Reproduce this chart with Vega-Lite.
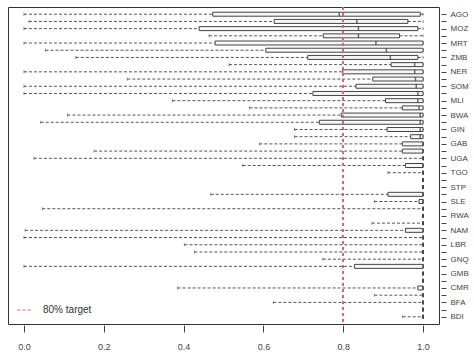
{
  "$schema": "https://vega.github.io/schema/vega-lite/v6.json",
  "width": 431,
  "height": 317,
  "autosize": "none",
  "padding": {"left": 8, "top": 7, "right": 35, "bottom": 28},
  "background": "white",
  "config": {
    "view": {"stroke": "#333333", "strokeWidth": 1},
    "font": "Liberation Sans"
  },
  "data": {
    "values": [
      {"c": "AGO", "mn": 0, "q1": 0.473, "md": 0.79, "q3": 0.993, "mx": 1},
      {"c": "TZA", "mn": 0.0125, "q1": 0.627, "md": 0.834, "q3": 0.962, "mx": 1},
      {"c": "MOZ", "mn": 0, "q1": 0.439, "md": 0.838, "q3": 0.987, "mx": 1},
      {"c": "ETH", "mn": 0.464, "q1": 0.75, "md": 0.838, "q3": 0.941, "mx": 1},
      {"c": "MRT", "mn": 0, "q1": 0.479, "md": 0.882, "q3": 1, "mx": 1},
      {"c": "MDG", "mn": 0.054, "q1": 0.606, "md": 0.908, "q3": 1, "mx": 1},
      {"c": "ZMB", "mn": 0.13, "q1": 0.711, "md": 0.918, "q3": 0.987, "mx": 1},
      {"c": "TCD", "mn": 0.514, "q1": 0.92, "md": 0.979, "q3": 1, "mx": 1},
      {"c": "NER", "mn": 0, "q1": 0.799, "md": 0.979, "q3": 1, "mx": 1},
      {"c": "SSD", "mn": 0.259, "q1": 0.874, "md": 0.981, "q3": 1, "mx": 1},
      {"c": "SOM", "mn": 0, "q1": 0.832, "md": 0.983, "q3": 1, "mx": 1},
      {"c": "CAF", "mn": 0, "q1": 0.724, "md": 0.987, "q3": 1, "mx": 1},
      {"c": "MLI", "mn": 0.372, "q1": 0.906, "md": 0.987, "q3": 1, "mx": 1},
      {"c": "KEN", "mn": 0.565, "q1": 0.948, "md": 0.99, "q3": 1, "mx": 1},
      {"c": "BWA", "mn": 0.109, "q1": 0.795, "md": 0.993, "q3": 1, "mx": 1},
      {"c": "MWI", "mn": 0.042, "q1": 0.74, "md": 0.993, "q3": 1, "mx": 1},
      {"c": "GIN", "mn": 0.678, "q1": 0.91, "md": 0.993, "q3": 1, "mx": 1},
      {"c": "GNB", "mn": 0.678, "q1": 0.969, "md": 0.993, "q3": 1, "mx": 1},
      {"c": "GAB", "mn": 0.59, "q1": 0.948, "md": 1, "q3": 1, "mx": 1},
      {"c": "COD", "mn": 0.176, "q1": 0.948, "md": 1, "q3": 1, "mx": 1},
      {"c": "UGA", "mn": 0.025, "q1": 1, "md": 1, "q3": 1, "mx": 1},
      {"c": "BEN", "mn": 0.548, "q1": 0.956, "md": 1, "q3": 1, "mx": 1},
      {"c": "TGO", "mn": 0.912, "q1": 1, "md": 1, "q3": 1, "mx": 1},
      {"c": "SEN", "mn": 1, "q1": 1, "md": 1, "q3": 1, "mx": 1},
      {"c": "STP", "mn": 1, "q1": 1, "md": 1, "q3": 1, "mx": 1},
      {"c": "LSO", "mn": 0.468, "q1": 0.912, "md": 1, "q3": 1, "mx": 1},
      {"c": "SLE", "mn": 0.878, "q1": 0.99, "md": 1, "q3": 1, "mx": 1},
      {"c": "CIV", "mn": 0.046, "q1": 1, "md": 1, "q3": 1, "mx": 1},
      {"c": "RWA", "mn": 1, "q1": 1, "md": 1, "q3": 1, "mx": 1},
      {"c": "COG", "mn": 0.872, "q1": 1, "md": 1, "q3": 1, "mx": 1},
      {"c": "NAM", "mn": 0.003, "q1": 0.956, "md": 1, "q3": 1, "mx": 1},
      {"c": "ERI", "mn": 0, "q1": 1, "md": 1, "q3": 1, "mx": 1},
      {"c": "LBR", "mn": 0.402, "q1": 1, "md": 1, "q3": 1, "mx": 1},
      {"c": "GHA", "mn": 0.427, "q1": 1, "md": 1, "q3": 1, "mx": 1},
      {"c": "GNQ", "mn": 0.749, "q1": 1, "md": 1, "q3": 1, "mx": 1},
      {"c": "ZWE", "mn": 0, "q1": 0.828, "md": 1, "q3": 1, "mx": 1},
      {"c": "GMB", "mn": 1, "q1": 1, "md": 1, "q3": 1, "mx": 1},
      {"c": "NGA", "mn": 1, "q1": 1, "md": 1, "q3": 1, "mx": 1},
      {"c": "CMR", "mn": 0.385, "q1": 0.987, "md": 1, "q3": 1, "mx": 1},
      {"c": "SWZ", "mn": 0.878, "q1": 1, "md": 1, "q3": 1, "mx": 1},
      {"c": "BFA", "mn": 0.625, "q1": 1, "md": 1, "q3": 1, "mx": 1},
      {"c": "COM", "mn": 1, "q1": 1, "md": 1, "q3": 1, "mx": 1},
      {"c": "BDI", "mn": 0.949, "q1": 1, "md": 1, "q3": 1, "mx": 1}
    ]
  },
  "encoding": {
    "y": {
      "field": "c",
      "type": "nominal",
      "sort": null,
      "title": null,
      "scale": {"type": "point", "padding": 2.22},
      "axis": {
        "orient": "right",
        "domain": false,
        "ticks": true,
        "tickSize": 5,
        "tickColor": "#444444",
        "offset": 2,
        "labelPadding": 4,
        "labelFontSize": 8,
        "labelColor": "#444444",
        "labelFont": "Liberation Sans",
        "labelExpr": "indexof(['AGO','MOZ','MRT','ZMB','NER','SOM','MLI','BWA','GIN','GAB','UGA','TGO','STP','SLE','RWA','NAM','LBR','GNQ','GMB','CMR','BFA','BDI'], datum.value) >= 0 ? datum.value : ''"
      }
    }
  },
  "layer": [
    {
      "mark": {"type": "rule", "strokeDash": [3, 2], "color": "#555555", "strokeWidth": 1},
      "encoding": {
        "x": {
          "field": "mn",
          "type": "quantitative",
          "title": null,
          "scale": {"domain": [-0.04, 1.04], "nice": false, "zero": false},
          "axis": {
            "values": [0, 0.2, 0.4, 0.6, 0.8, 1],
            "format": ".1f",
            "domain": false,
            "grid": false,
            "tickSize": 7,
            "tickColor": "#444444",
            "offset": 1,
            "labelPadding": 10,
            "labelFontSize": 9,
            "labelColor": "#444444",
            "labelFont": "Liberation Sans"
          }
        },
        "x2": {"field": "q1"}
      }
    },
    {
      "mark": {"type": "rule", "strokeDash": [3, 2], "color": "#555555", "strokeWidth": 1},
      "encoding": {
        "x": {"field": "q3", "type": "quantitative"},
        "x2": {"field": "mx"}
      }
    },
    {
      "mark": {"type": "tick", "orient": "vertical", "size": 3, "thickness": 1, "color": "#555555"},
      "encoding": {"x": {"field": "mn", "type": "quantitative"}}
    },
    {
      "mark": {"type": "tick", "orient": "vertical", "size": 3, "thickness": 1, "color": "#555555"},
      "encoding": {"x": {"field": "mx", "type": "quantitative"}}
    },
    {
      "mark": {"type": "bar", "size": 4, "fill": "#f6f6f6", "stroke": "#444444", "strokeWidth": 1},
      "encoding": {
        "x": {"field": "q1", "type": "quantitative"},
        "x2": {"field": "q3"}
      }
    },
    {
      "mark": {"type": "tick", "orient": "vertical", "size": 4, "thickness": 1.5, "color": "#333333"},
      "encoding": {"x": {"field": "md", "type": "quantitative"}}
    },
    {
      "mark": {"type": "rule", "strokeDash": [3, 3], "strokeWidth": 0.9},
      "encoding": {
        "x": {"datum": 0.8},
        "y": {"value": 0},
        "y2": {"value": 317},
        "color": {
          "datum": "80% target",
          "scale": {"range": ["#e06666"]},
          "legend": {
            "orient": "bottom-left",
            "offset": 9,
            "title": null,
            "symbolType": "stroke",
            "symbolSize": 169,
            "symbolStrokeWidth": 1,
            "symbolDash": [3, 2],
            "labelFontSize": 10,
            "labelColor": "#333333",
            "labelFont": "Liberation Sans",
            "labelOffset": 12,
            "padding": 0
          }
        }
      }
    }
  ]
}
